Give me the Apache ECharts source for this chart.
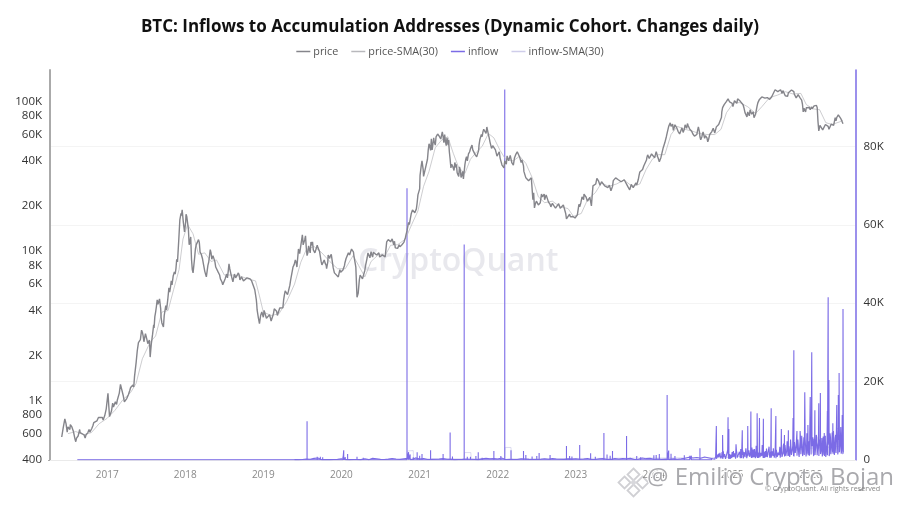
<!DOCTYPE html>
<html><head><meta charset="utf-8">
<style>html,body{margin:0;padding:0;background:#fff}#c{width:900px;height:506px}</style>
<script src="https://cdn.jsdelivr.net/npm/echarts@6/dist/echarts.min.js"></script></head>
<body><div id="c"></div>
<script>
const titleText='BTC: Inflows to Accumulation Addresses (Dynamic Cohort. Changes daily)';
const leftTicks=[400,600,800,1000,2000,4000,6000,8000,10000,20000,40000,60000,80000,100000];
const priceYears=[2016.42,2016.46,2016.49,2016.50,2016.55,2016.59,2016.63,2016.68,2016.73,2016.78,2016.83,2016.91,2016.97,2017.01,2017.03,2017.08,2017.13,2017.18,2017.23,2017.27,2017.33,2017.37,2017.40,2017.45,2017.47,2017.54,2017.55,2017.58,2017.61,2017.63,2017.67,2017.70,2017.76,2017.79,2017.83,2017.86,2017.90,2017.93,2017.96,2017.99,2018.02,2018.06,2018.10,2018.14,2018.18,2018.23,2018.27,2018.33,2018.38,2018.42,2018.48,2018.54,2018.56,2018.61,2018.68,2018.70,2018.79,2018.87,2018.91,2018.92,2018.95,2018.98,2019.02,2019.11,2019.15,2019.19,2019.25,2019.27,2019.32,2019.38,2019.41,2019.43,2019.50,2019.51,2019.53,2019.57,2019.61,2019.64,2019.70,2019.75,2019.79,2019.82,2019.83,2019.88,2019.91,2019.96,2020.02,2020.07,2020.14,2020.17,2020.20,2020.23,2020.28,2020.34,2020.39,2020.43,2020.49,2020.56,2020.58,2020.65,2020.69,2020.75,2020.80,2020.84,2020.88,2020.91,2020.96,2020.98,2021.03,2021.06,2021.11,2021.15,2021.16,2021.21,2021.29,2021.31,2021.35,2021.38,2021.40,2021.45,2021.48,2021.52,2021.56,2021.60,2021.65,2021.68,2021.74,2021.77,2021.81,2021.86,2021.90,2021.97,2022.03,2022.08,2022.12,2022.18,2022.25,2022.31,2022.36,2022.43,2022.47,2022.52,2022.57,2022.62,2022.68,2022.76,2022.84,2022.88,2022.93,2022.99,2023.05,2023.08,2023.13,2023.20,2023.22,2023.29,2023.37,2023.45,2023.49,2023.55,2023.64,2023.69,2023.78,2023.82,2023.89,2023.92,2023.99,2024.03,2024.07,2024.14,2024.21,2024.23,2024.27,2024.35,2024.40,2024.44,2024.53,2024.57,2024.60,2024.63,2024.69,2024.74,2024.78,2024.85,2024.88,2024.95,2025.01,2025.07,2025.14,2025.19,2025.23,2025.28,2025.32,2025.40,2025.46,2025.55,2025.62,2025.68,2025.72,2025.77,2025.82,2025.87,2025.91,2025.95,2026.00,2026.05,2026.09,2026.11,2026.14,2026.18,2026.21,2026.25,2026.32,2026.36,2026.40,2026.42];
const priceValues=[570,754,615,665,665,552,579,615,588,615,710,754,790,1115,780,905,1008,1250,960,1089,1270,1785,2440,2860,2470,2540,1950,2744,3635,4250,4780,3300,4030,5660,5930,7240,8450,16100,18800,13400,16900,11400,7130,10970,11400,8320,6700,9700,8450,7240,5930,6600,8190,6220,7130,6400,6600,6400,4700,4030,3260,3910,3910,3350,4030,3850,4160,5080,5340,7800,8700,7800,12800,10970,11850,9700,11480,10160,10480,8060,8320,7465,9400,8700,7130,6700,7465,8700,10160,9100,4900,6400,6700,9700,9400,9700,9100,9100,11480,12030,10480,10640,11400,13600,16100,18800,19100,23700,40000,30800,47400,56100,47400,57900,62500,52900,57000,46000,35900,39000,33300,34800,30300,42700,48100,47400,41300,55300,62500,67400,53600,47400,41900,35900,43200,38900,46000,40600,30800,30800,19400,20300,23000,23700,19700,19100,20300,16400,16900,16600,19700,23000,23000,20000,27200,29400,27200,25200,30300,29400,29000,25600,27600,33700,37600,43900,43900,46000,39400,52800,71800,66500,69700,59700,69700,68600,57000,67500,55300,62500,53600,62500,61500,69700,90700,104000,92200,104000,94800,78700,87800,77700,93300,109000,104000,119500,119500,109000,114000,122000,105500,105500,85000,90700,87800,93300,90700,63500,67500,66500,72000,66500,77700,81300,77700,70800];
const priceDetail=[[2016.44,660],[2016.475,700],[2016.495,640],[2016.525,640],[2016.57,620],[2016.61,560],[2016.655,610],[2016.705,590],[2016.755,610],[2016.805,650],[2016.87,730],[2016.94,770],[2016.99,880],[2017.02,930],[2017.055,850],[2017.105,980],[2017.155,1120],[2017.205,1080],[2017.25,1030],[2017.30,1220],[2017.35,1450],[2017.385,2150],[2017.425,2550],[2017.46,2700],[2017.505,2600],[2017.545,2300],[2017.565,2400],[2017.595,3200],[2017.62,3900],[2017.65,4400],[2017.685,4100],[2017.73,3700],[2017.775,4700],[2017.81,5700],[2017.845,6800],[2017.88,7600],[2017.915,11500],[2017.945,17800],[2017.975,15500],[2018.005,15500],[2018.04,14000],[2018.08,8800],[2018.12,9000],[2018.16,11000],[2018.205,9500],[2018.25,7300],[2018.30,8400],[2018.355,9300],[2018.40,7600],[2018.45,6500],[2018.51,6500],[2018.55,7300],[2018.585,7000],[2018.645,6600],[2018.69,6900],[2018.745,6300],[2018.83,6500],[2018.89,5500],[2018.915,4400],[2018.935,3600],[2018.965,3700],[2019.00,3600],[2019.065,3600],[2019.13,3800],[2019.17,3950],[2019.22,4050],[2019.26,4700],[2019.295,5300],[2019.35,6400],[2019.395,8100],[2019.42,8400],[2019.465,9600],[2019.505,12000],[2019.52,11100],[2019.55,10500],[2019.59,10200],[2019.625,10900],[2019.67,10000],[2019.725,9600],[2019.77,8300],[2019.805,8000],[2019.825,8400],[2019.855,9200],[2019.895,7700],[2019.935,7200],[2019.99,7200],[2020.045,8300],[2020.105,9400],[2020.155,9800],[2020.185,7800],[2020.215,5200],[2020.255,7000],[2020.31,8000],[2020.365,9000],[2020.41,9800],[2020.46,9300],[2020.525,9400],[2020.57,10200],[2020.615,11700],[2020.67,11000],[2020.72,10400],[2020.775,11000],[2020.82,12300],[2020.86,15500],[2020.895,17800],[2020.935,18300],[2020.97,21000],[2021.005,32000],[2021.045,35000],[2021.085,36000],[2021.13,50000],[2021.155,51000],[2021.185,54000],[2021.25,58500],[2021.30,58000],[2021.33,54000],[2021.365,51000],[2021.39,41000],[2021.425,36500],[2021.465,36000],[2021.50,31500],[2021.54,32000],[2021.58,38000],[2021.625,44500],[2021.665,49000],[2021.71,44000],[2021.755,47000],[2021.79,60000],[2021.835,63000],[2021.88,60000],[2021.935,50500],[2022.00,44000],[2022.055,37500],[2022.10,41000],[2022.15,41000],[2022.215,42000],[2022.28,42500],[2022.335,34000],[2022.395,29500],[2022.45,22000],[2022.495,21500],[2022.545,21000],[2022.595,24000],[2022.65,21200],[2022.72,20000],[2022.80,19300],[2022.86,19700],[2022.905,16200],[2022.96,17000],[2023.02,17400],[2023.065,21000],[2023.105,24000],[2023.165,21500],[2023.21,23500],[2023.255,28000],[2023.33,29000],[2023.41,26500],[2023.47,27000],[2023.52,31000],[2023.595,29500],[2023.665,27000],[2023.735,26500],[2023.80,30000],[2023.855,35000],[2023.905,40500],[2023.955,42500],[2024.01,42000],[2024.05,42500],[2024.105,43000],[2024.175,63000],[2024.22,68000],[2024.25,64000],[2024.31,63000],[2024.375,62000],[2024.42,66000],[2024.485,63000],[2024.55,60000],[2024.585,62000],[2024.615,58000],[2024.66,59000],[2024.715,60000],[2024.76,66000],[2024.815,67000],[2024.865,78000],[2024.915,97000],[2024.98,98000],[2025.04,100000],[2025.105,100000],[2025.165,84000],[2025.21,83000],[2025.255,84000],[2025.30,82000],[2025.36,104000],[2025.43,108000],[2025.505,107000],[2025.585,116000],[2025.65,118000],[2025.70,110000],[2025.745,117000],[2025.795,112000],[2025.845,111000],[2025.89,102000],[2025.93,88000],[2025.975,92000],[2026.025,89000],[2026.07,95000],[2026.10,73000],[2026.125,69000],[2026.16,64500],[2026.195,70000],[2026.23,68000],[2026.285,70000],[2026.34,78000],[2026.38,79000],[2026.41,75000]];
const priceRough=[[2016.53,690],[2016.60,530],[2016.65,640],[2016.72,560],[2016.77,640],[2016.82,680],[2016.89,770],[2016.95,740],[2017.07,960],[2017.12,940],[2017.17,1280],[2017.22,980],[2017.29,1170],[2017.34,1230],[2017.44,2950],[2017.49,2800],[2017.52,2400],[2017.60,3050],[2017.64,4700],[2017.69,3600],[2017.72,3100],[2017.75,4300],[2017.80,5300],[2017.82,6300],[2017.87,7000],[2017.89,8800],[2017.95,17200],[2018.01,17600],[2018.05,11000],[2018.07,12400],[2018.09,7500],[2018.13,10300],[2018.17,11900],[2018.19,9800],[2018.22,8900],[2018.26,7000],[2018.29,8000],[2018.32,10200],[2018.34,8800],[2018.37,9300],[2018.39,7800],[2018.44,6900],[2018.47,6200],[2018.50,6100],[2018.53,7000],[2018.57,7600],[2018.60,6500],[2018.63,7000],[2018.66,6400],[2018.72,6700],[2018.76,6250],[2018.81,6700],[2018.85,6300],[2019.01,4000],[2019.04,3550],[2019.08,3750],[2019.10,3400],[2019.14,4100],[2019.18,3700],[2019.21,4150],[2019.28,5400],[2019.31,5100],[2019.34,5900],[2019.37,7300],[2019.40,7900],[2019.45,10300],[2019.48,9500],[2019.54,12600],[2019.56,9300],[2019.58,10800],[2019.60,9700],[2019.63,11500],[2019.66,9700],[2019.69,10900],[2019.72,9900],[2019.74,8500],[2019.78,8700],[2019.81,7600],[2019.85,8900],[2019.87,9500],[2019.90,7500],[2019.93,7000],[2019.98,7500],[2020.01,7000],[2020.04,8000],[2020.06,8900],[2020.09,9700],[2020.12,9200],[2020.13,10300],[2020.16,9300],[2020.24,6900],[2020.27,6500],[2020.30,7400],[2020.33,9000],[2020.38,9900],[2020.40,9100],[2020.45,9400],[2020.48,9700],[2020.51,9200],[2020.54,9500],[2020.60,11900],[2020.63,11500],[2020.68,11600],[2020.71,10300],[2020.74,11000],[2020.78,10700],[2020.83,13000],[2020.87,15000],[2020.90,18200],[2020.94,18000],[2021.00,26000],[2021.02,37000],[2021.05,31500],[2021.07,35000],[2021.10,41000],[2021.12,52000],[2021.14,47000],[2021.18,57000],[2021.20,51000],[2021.23,60500],[2021.27,56000],[2021.32,60000],[2021.34,50500],[2021.37,55000],[2021.41,38000],[2021.44,34500],[2021.47,38000],[2021.49,33000],[2021.51,36500],[2021.53,31000],[2021.55,34000],[2021.59,41000],[2021.61,40000],[2021.64,46000],[2021.67,51000],[2021.70,46000],[2021.73,42500],[2021.76,51000],[2021.78,57000],[2021.80,58000],[2021.82,65000],[2021.85,61000],[2021.87,66000],[2021.89,57000],[2021.92,48500],[2021.95,51000],[2021.99,43000],[2022.02,46000],[2022.04,40000],[2022.07,37000],[2022.09,40000],[2022.11,38000],[2022.14,40000],[2022.16,43500],[2022.20,37500],[2022.23,44000],[2022.27,45500],[2022.30,39000],[2022.33,37000],[2022.38,31500],[2022.41,29500],[2022.46,24500],[2022.48,20500],[2022.51,22000],[2022.54,20000],[2022.56,24000],[2022.60,22000],[2022.64,23000],[2022.67,20500],[2022.70,20800],[2022.74,19300],[2022.78,20700],[2022.82,19500],[2022.87,17800],[2022.89,16000],[2022.92,17600],[2022.95,16600],[2022.98,17300],[2023.01,16700],[2023.04,20500],[2023.07,21500],[2023.10,22000],[2023.12,24000],[2023.15,21500],[2023.18,22800],[2023.235,27500],[2023.27,30500],[2023.31,27500],[2023.35,29500],[2023.39,26500],[2023.43,27500],[2023.46,25500],[2023.48,29500],[2023.51,30800],[2023.54,30000],[2023.58,29000],[2023.62,29900],[2023.67,26200],[2023.71,27800],[2023.75,26800],[2023.77,28500],[2023.81,32000],[2023.84,34500],[2023.87,37000],[2023.91,42000],[2023.94,41500],[2023.97,44500],[2024.02,44000],[2024.04,45000],[2024.06,41000],[2024.09,42000],[2024.12,49000],[2024.16,58000],[2024.19,68000],[2024.24,70500],[2024.26,66000],[2024.29,67000],[2024.33,60500],[2024.36,66500],[2024.39,65000],[2024.43,71000],[2024.46,65000],[2024.50,60500],[2024.52,58500],[2024.56,64000],[2024.59,58000],[2024.62,60000],[2024.65,56500],[2024.68,57000],[2024.70,55500],[2024.73,59000],[2024.77,64000],[2024.80,67500],[2024.83,70000],[2024.87,85000],[2024.90,95000],[2024.93,100000],[2024.97,99000],[2025.00,97000],[2025.03,101000],[2025.06,97000],[2025.09,102000],[2025.12,97000],[2025.15,91000],[2025.18,82000],[2025.20,85000],[2025.22,80000],[2025.25,82000],[2025.27,85000],[2025.29,79000],[2025.33,98000],[2025.35,103000],[2025.38,107000],[2025.42,105000],[2025.45,106000],[2025.48,103000],[2025.52,110000],[2025.57,118000],[2025.60,114000],[2025.64,113000],[2025.67,116000],[2025.71,108000],[2025.74,113000],[2025.76,119000],[2025.79,116000],[2025.81,110000],[2025.84,108000],[2025.86,112000],[2025.88,106000],[2025.90,96000],[2025.92,90000],[2025.94,85000],[2025.97,89000],[2025.99,91000],[2026.02,92000],[2026.04,88000],[2026.06,92000],[2026.08,94000],[2026.12,65000],[2026.15,69000],[2026.17,64000],[2026.20,68500],[2026.22,71000],[2026.24,65000],[2026.27,70500],[2026.30,69000],[2026.33,74000],[2026.35,79000],[2026.37,82000],[2026.39,77000]];
const priceSmaYears=[2016.50,2016.6,2016.7,2016.8,2016.9,2017.0,2017.1,2017.2,2017.3,2017.37,2017.45,2017.55,2017.62,2017.7,2017.78,2017.85,2017.92,2017.97,2018.03,2018.1,2018.17,2018.25,2018.33,2018.4,2018.5,2018.6,2018.7,2018.8,2018.9,2018.95,2019.0,2019.1,2019.2,2019.3,2019.4,2019.48,2019.55,2019.65,2019.75,2019.85,2019.95,2020.05,2020.15,2020.22,2020.3,2020.38,2020.48,2020.56,2020.63,2020.72,2020.82,2020.9,2020.98,2021.05,2021.12,2021.2,2021.28,2021.36,2021.43,2021.5,2021.58,2021.65,2021.73,2021.8,2021.88,2021.95,2022.03,2022.1,2022.2,2022.28,2022.36,2022.44,2022.52,2022.6,2022.7,2022.8,2022.9,2022.97,2023.07,2023.15,2023.25,2023.33,2023.42,2023.52,2023.62,2023.72,2023.82,2023.9,2023.98,2024.06,2024.14,2024.22,2024.3,2024.4,2024.5,2024.58,2024.68,2024.78,2024.86,2024.93,2025.02,2025.1,2025.2,2025.3,2025.38,2025.48,2025.58,2025.68,2025.78,2025.88,2025.95,2026.04,2026.12,2026.2,2026.28,2026.38,2026.42];
const priceSmaValues=[600,620,590,610,700,760,860,1010,1130,1300,1900,2450,2700,3900,4000,5500,7500,12000,15000,13000,9500,9700,8500,8700,6900,6900,6800,6500,6300,5000,3900,3700,3800,4600,6000,8400,10200,10700,9700,8500,7600,7600,9300,8000,6700,8500,9500,9300,10900,11000,12000,15000,18500,27000,34000,49000,55000,58000,45000,36000,33000,41000,46000,50000,61000,57000,47000,41000,40000,43000,38500,31000,23000,21000,21500,19700,19200,17000,17800,22000,24500,28500,27000,28000,29800,27000,28000,35000,41000,44000,44000,60000,68000,65000,63000,61000,60000,60000,65000,84000,98000,98000,92000,83000,92000,106000,110000,116000,112000,113000,95000,89000,88000,72000,70000,73000,75000];
const inflowFloor=80;
const sparseYears=[2016.62,2019.34,2019.45,2019.56,2019.69,2019.73,2019.76,2019.86,2019.97,2020.02,2020.03,2020.05,2020.08,2020.12,2020.20,2020.28,2020.33,2020.53,2020.71,2020.84,2020.86,2020.88,2020.92,2020.97,2021.0,2021.03,2021.07,2021.14,2021.22,2021.30,2021.39,2021.42,2021.57,2021.61,2021.65,2021.72,2021.75,2021.8,2021.95,2022.04,2022.09,2022.17,2022.33,2022.36,2022.44,2022.5,2022.53,2022.67,2022.88,2022.92,2022.95,2023.05,2023.19,2023.25,2023.36,2023.40,2023.44,2023.47,2023.65,2023.78,2023.83,2024.0,2024.03,2024.07,2024.17,2024.19,2024.22,2024.27,2024.39,2024.46,2024.48,2024.59,2024.74];
const sparseValues=[60,300,500,9900,800,800,700,300,250,800,2500,700,1500,300,800,600,400,350,300,69300,2000,1400,700,2000,1100,1500,500,2500,500,1500,7000,900,55000,800,800,1000,2000,600,2300,1000,94500,2500,2300,1300,900,1000,1800,1300,3600,1000,900,3800,1700,800,6900,1400,1100,2300,6100,1000,700,1200,1300,1500,16600,2400,1600,1000,1200,1100,1100,3000,300];
const peakYears=[2024.80,2024.88,2024.95,2024.96,2025.05,2025.13,2025.20,2025.24,2025.32,2025.35,2025.40,2025.50,2025.56,2025.63,2025.67,2025.72,2025.78,2025.79,2025.83,2025.87,2025.93,2025.97,2026.00,2026.02,2026.06,2026.11,2026.13,2026.18,2026.22,2026.23,2026.24,2026.29,2026.34,2026.36,2026.37,2026.41,2026.42];
const peakValues=[8700,6400,10900,7900,4000,7600,8700,12400,11900,10700,10500,13200,11200,7900,6400,7600,10700,28000,7400,7400,17300,8900,16100,27500,12700,14500,17100,6900,12500,41500,20400,9400,14000,16600,22200,11500,38500];
const lowStart=2019.4, lowStep=0.025;
const lowValues=[90,220,70,300,120,60,260,110,180,80,420,150,500,200,90,380,130,300,90,210,120,460,160,90,340,200,110,280,90,190,130,350,110,240,90,170,300,120,90,260,
420,180,300,520,160,340,110,480,230,150,390,120,260,450,170,90,310,140,420,190,120,280,540,160,230,110,370,200,130,300,150,460,180,110,260,140,350,120,210,90,
160,300,100,240,130,380,170,100,270,120,190,340,110,230,90,150,280,120,440,200,300,130,360,150,240,110,500,210,130,320,160,250,110,390,140,200,300,120,260,100,
170,330,130,220,110,450,190,120,300,150,210,100,350,140,250,120,180,400,160,110,290,130,230,100,310,150,200,120,270,110,360,170,130,240,110,190,300,140,400,180,
120,280,150,220,380,160,260,120,340,200,300,150,460,230,130,360,180,280,520,200,340,150,420,240,180,580,260,380,170,480,220,340,160,640,280,420,200,520,300,180,
460,260,700,320,500,220,620,300,440,200,760,340];
const denseStart=2024.78, denseStep=0.011;
const denseValues=[200,900,300,1400,250,700,1800,400,1100,300,2200,500,1300,350,900,2600,400,1500,300,1200,2000,450,800,1700,350,2400,600,1100,300,1600,2800,500,1300,400,2000,700,3000,450,1500,600,
2400,500,1700,3200,600,1300,2800,450,3600,700,1900,500,2600,800,1400,3800,600,2000,500,1500,2900,700,1200,3400,550,2300,800,1700,3000,600,1600,450,2500,900,1400,2100,600,3300,800,1500,
4200,900,2800,1200,4800,1000,3500,800,5200,1300,2600,4400,900,3100,1600,5600,1100,3600,800,4700,1500,6200,1000,3800,1300,5400,900,6800,1600,4200,1100,7200,1400,3500,5800,1000,4400,1700,6400,1200,
3800,1000,5200,1500,2900,900,6000,1300,4500,800,3300,1200,5400,1000,6800,1500,4200,2000,7400,1300,5600,1800,8000,1400,6200,2000,4800,1600,7000,1500];
const denseOffset=0.0055;
const denseValuesB=[500,1200,200,700,1600,300,1000,500,2000,350,800,1500,300,1100,600,1900,250,900,1400,500,700,2300,300,1300,800,1800,350,1000,2100,450,1200,700,2400,350,1500,900,2000,600,1100,2500,
800,2000,500,1400,2700,700,1700,1000,3100,500,1300,2400,700,1800,1000,3000,500,1500,2300,800,1900,600,2800,1100,1700,600,2200,1000,3200,700,1500,2600,800,1900,1200,3400,700,2300,1000,3600,
1500,3800,1000,2400,4400,1100,3000,1700,5000,1200,3600,1000,4600,1800,3900,1100,5200,1400,3000,6000,1200,4100,1600,5800,1000,3400,1800,6300,1200,4800,1500,6600,1100,4000,1900,5400,1300,3700,5800,1600,
4600,1300,3500,1100,5600,1700,3800,1000,6200,1500,4900,1100,3900,1700,5800,1200,7000,1600,4800,2200,6400,1500,7600,2100,5200,1700,8400,2300,5800,1900];
const inflowSmaYears=[2016.62,2020.84,2020.845,2020.92,2020.925,2021.57,2021.575,2021.655,2021.66,2022.09,2022.095,2022.17,2022.175,2024.9,2025.5,2026.0,2026.42];
const inflowSmaValues=[0,100,2300,2400,300,300,1900,1900,300,300,3200,3200,300,600,1500,3000,3500];

const yearToMs=y=>{const f=Math.floor(y);return Date.UTC(f,0,1)+(y-f)*365.25*864e5;};
const zip=(xs,ys)=>xs.map((x,i)=>[yearToMs(x),ys[i]]);
const priceData=priceYears.map((y,i)=>[y,priceValues[i]]).concat(priceDetail,priceRough).sort((a,b)=>a[0]-b[0]).map(p=>[yearToMs(p[0]),p[1]]);
const spikePts=[];
sparseYears.forEach((y,i)=>{
  spikePts.push([y,inflowFloor],[y,sparseValues[i]],[y,inflowFloor]);
});
const spikeData=spikePts.map(p=>[yearToMs(p[0]),p[1]]);
const massPts=[];
lowValues.forEach((v,i)=>massPts.push([lowStart+i*lowStep,v]));
denseValues.forEach((v,i)=>massPts.push([denseStart+i*denseStep,v]));
denseValuesB.forEach((v,i)=>massPts.push([denseStart+denseOffset+i*denseStep,v]));
peakYears.forEach((y,i)=>massPts.push([y,peakValues[i]]));
massPts.sort((a,b)=>a[0]-b[0]);
const massData=massPts.map(p=>[yearToMs(p[0]),p[1]]);

const kFmt=v=>v>=1000?(v/1000)+'K':String(v);
const FONT='"Open Sans"';
const chart=echarts.init(document.getElementById('c'),null,{renderer:'canvas'});
const lineSeries=(name,data,yIdx,color,width,z)=>({name,type:'line',data,yAxisIndex:yIdx,symbol:'none',showSymbol:false,sampling:false,z,
  lineStyle:{color,width},itemStyle:{color}});
chart.setOption({
  animation:false,
  backgroundColor:'#fff',
  title:{text:titleText,left:'center',top:14,textStyle:{fontFamily:FONT,fontSize:17,fontWeight:'bold',color:'#111'}},
  legend:{top:41,left:'center',icon:'rect',itemWidth:14,itemHeight:1.5,itemGap:13,textStyle:{fontFamily:FONT,fontSize:10.8,color:'#555',padding:[0,0,0,-2]},
    data:['price','price-SMA(30)','inflow','inflow-SMA(30)']},
  grid:{left:50,right:44.5,top:70,bottom:46},
  xAxis:{type:'time',min:yearToMs(2016.27),max:yearToMs(2026.58),splitNumber:10,
    axisLine:{show:true,lineStyle:{color:'#eaeaea',width:1}},axisTick:{show:false},splitLine:{show:false},
    axisLabel:{fontFamily:FONT,fontSize:10,color:'#8a8a8a',margin:10,formatter:'{yyyy}',hideOverlap:false,showMinLabel:false,showMaxLabel:false}},
  yAxis:[
   {type:'log',logBase:10,min:400,max:162000,position:'left',
    axisLine:{show:true,onZero:false,lineStyle:{color:'#aaaaaa',width:2}},
    axisTick:{show:true,length:2,lineStyle:{color:'#aaaaaa'},customValues:[400]},
    splitLine:{show:false},minorTick:{show:false},
    axisLabel:{customValues:leftTicks,fontFamily:FONT,fontSize:11.5,color:'#333',margin:8,formatter:v=>kFmt(Math.round(v))}},
   {type:'value',min:0,max:99500,interval:20000,position:'right',
    axisLine:{show:true,lineStyle:{color:'#7B6BE6',width:1.5}},axisTick:{show:false},
    splitLine:{show:true,showMaxLine:false,lineStyle:{color:'#f4f4f4',width:1}},
    axisLabel:{fontFamily:FONT,fontSize:11.5,color:'#333',margin:8,showMaxLabel:false,formatter:v=>kFmt(v)}}
  ],
  graphic:[
   {type:'text',silent:true,z:0,left:358,top:246,style:{text:'CryptoQuant',font:'600 32px "Open Sans"',fill:'rgba(205,205,215,0.45)'}},
   {type:'group',left:616,top:466,z:50,children:[
     {type:'polygon',shape:{points:[[12,0],[18,6],[12,12],[6,6]]},style:{fill:'none',stroke:'#d0d0d4',lineWidth:1.8}},
     {type:'polygon',shape:{points:[[12,16],[18,22],[12,28],[6,22]]},style:{fill:'none',stroke:'#d0d0d4',lineWidth:1.8}},
     {type:'polygon',shape:{points:[[3,8],[9,14],[3,20],[-3,14]]},style:{fill:'none',stroke:'#d0d0d4',lineWidth:1.8}},
     {type:'polygon',shape:{points:[[21,8],[27,14],[21,20],[15,14]]},style:{fill:'none',stroke:'#d0d0d4',lineWidth:1.8}},
     {type:'polygon',shape:{points:[[12,10],[15,14],[12,18],[9,14]]},style:{fill:'#d8d8dc'}}
   ]},
   {type:'text',silent:true,z:50,left:646,top:465,style:{text:'@ Emilio Crypto Bojan',font:'24px "Open Sans"',fill:'#a9a9ad',stroke:'#fff',lineWidth:2}},
   {type:'text',silent:true,z:51,left:765,top:485,style:{text:'© CryptoQuant. All rights reserved',font:'7.2px "Open Sans"',fill:'#888'}}
  ],
  series:[
   lineSeries('inflow-SMA(30)',zip(inflowSmaYears,inflowSmaValues),1,'#cfcdea',0.7,2),
   lineSeries('inflow',spikeData,1,'#7B6BE6',1.1,3),
   lineSeries('inflow',massData,1,'#7B6BE6',1.1,3),
   lineSeries('price-SMA(30)',zip(priceSmaYears,priceSmaValues),0,'#b8b8bc',0.7,5),
   lineSeries('price',priceData,0,'#85858b',1.4,6)
  ]
});
</script></body></html>
